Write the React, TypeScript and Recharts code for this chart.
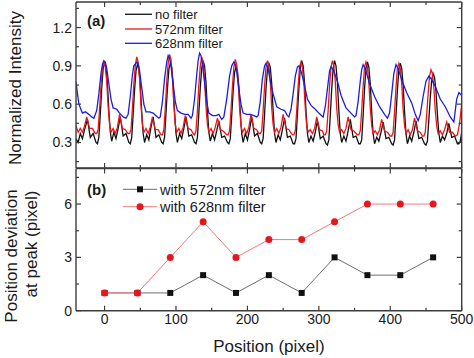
import { LineChart, Line, XAxis, YAxis } from "recharts";

// x axis (shared)
const xMajors = [0, 100, 200, 300, 400, 500];
const xMinors = [50, 150, 250, 350, 450];
// panel (a) y axis
const intensityMajors = [0.3, 0.6, 0.9, 1.2];
const intensityMinors = [0.15, 0.45, 0.75, 1.05, 1.35];
// panel (b) y axis
const deviationMajors = [0, 3, 6];
const deviationMinors = [1.5, 4.5, 7.5];

// panel (a): [position, normalized intensity]
const noFilter: [number, number][] = [
  [-40, 0.33], [-37, 0.30], [-34, 0.37], [-31, 0.33], [-28, 0.40], [-24, 0.48], [-20, 0.34], [-16, 0.37], [-12, 0.30], [-10, 0.29], [-8, 0.34], [-6, 0.52], [-4, 0.72], [-2, 0.88],
  [0, 0.93], [2, 0.89], [4, 0.76], [6, 0.55], [8, 0.38], [10, 0.31], [13, 0.38], [16, 0.33], [19, 0.41], [22, 0.50], [26, 0.35], [30, 0.37], [34, 0.30], [36, 0.29], [38, 0.34], [40, 0.52], [42, 0.71], [44, 0.86],
  [46, 0.91], [48, 0.88], [50, 0.75], [52, 0.54], [54, 0.37], [56, 0.30], [59, 0.36], [62, 0.32], [65, 0.42], [68, 0.50], [72, 0.34], [76, 0.36], [80, 0.30], [82, 0.29], [84, 0.34], [86, 0.53], [88, 0.72], [90, 0.87],
  [92, 0.92], [94, 0.89], [96, 0.76], [98, 0.54], [100, 0.37], [102, 0.30], [105, 0.37], [108, 0.33], [111, 0.41], [114, 0.50], [118, 0.35], [122, 0.36], [126, 0.30], [128, 0.29], [130, 0.34], [132, 0.53], [134, 0.73], [136, 0.88],
  [138, 0.94], [140, 0.90], [142, 0.77], [144, 0.55], [146, 0.38], [148, 0.31], [151, 0.37], [154, 0.32], [157, 0.39], [160, 0.47], [164, 0.34], [168, 0.35], [172, 0.30], [174, 0.29], [176, 0.33], [178, 0.51], [180, 0.70], [182, 0.85],
  [184, 0.89], [186, 0.86], [188, 0.74], [190, 0.54], [192, 0.37], [194, 0.30], [197, 0.37], [200, 0.32], [203, 0.40], [206, 0.50], [210, 0.35], [214, 0.37], [218, 0.30], [220, 0.29], [222, 0.33], [224, 0.52], [226, 0.72], [228, 0.87],
  [230, 0.92], [232, 0.89], [234, 0.76], [236, 0.55], [238, 0.37], [240, 0.30], [243, 0.36], [246, 0.32], [249, 0.40], [252, 0.49], [256, 0.34], [260, 0.35], [264, 0.29], [266, 0.29], [268, 0.33], [270, 0.52], [272, 0.72], [274, 0.88],
  [276, 0.94], [278, 0.90], [280, 0.77], [282, 0.55], [284, 0.37], [286, 0.30], [289, 0.35], [292, 0.31], [295, 0.38], [298, 0.47], [302, 0.33], [306, 0.35], [310, 0.29], [312, 0.28], [314, 0.32], [316, 0.51], [318, 0.72], [320, 0.88],
  [322, 0.94], [324, 0.90], [326, 0.77], [328, 0.55], [330, 0.37], [332, 0.30], [335, 0.35], [338, 0.31], [341, 0.39], [344, 0.48], [348, 0.34], [352, 0.35], [356, 0.29], [358, 0.29], [360, 0.32], [362, 0.51], [364, 0.72], [366, 0.88],
  [368, 0.93], [370, 0.89], [372, 0.76], [374, 0.54], [376, 0.37], [378, 0.29], [381, 0.34], [384, 0.31], [387, 0.38], [390, 0.46], [394, 0.33], [398, 0.34], [402, 0.29], [404, 0.28], [406, 0.32], [408, 0.51], [410, 0.71], [412, 0.87],
  [414, 0.92], [416, 0.88], [418, 0.75], [420, 0.54], [422, 0.37], [424, 0.29], [427, 0.35], [430, 0.31], [433, 0.38], [436, 0.47], [440, 0.33], [444, 0.34], [448, 0.29], [450, 0.28], [452, 0.31], [454, 0.48], [456, 0.65], [458, 0.79],
  [460, 0.84], [462, 0.81], [464, 0.70], [466, 0.52], [468, 0.37], [470, 0.30], [473, 0.35], [476, 0.32], [479, 0.37], [482, 0.45], [486, 0.34], [490, 0.35], [494, 0.29], [496, 0.29], [498, 0.31], [500, 0.38],
];

const filter572: [number, number][] = [
  [-40, 0.43], [-37, 0.38], [-34, 0.41], [-31, 0.38], [-28, 0.43], [-25, 0.50], [-21, 0.41], [-17, 0.41], [-13, 0.37], [-11, 0.37], [-9, 0.40], [-7, 0.56], [-5, 0.74], [-3, 0.88],
  [-1, 0.93], [1, 0.89], [3, 0.78], [5, 0.58], [7, 0.44], [9, 0.38], [12, 0.41], [15, 0.37], [18, 0.42], [21, 0.52], [25, 0.41], [29, 0.40], [33, 0.37], [35, 0.37], [37, 0.40], [39, 0.57], [41, 0.76], [43, 0.90],
  [45, 0.97], [47, 0.93], [49, 0.80], [51, 0.59], [53, 0.44], [55, 0.38], [58, 0.41], [61, 0.37], [64, 0.42], [67, 0.50], [71, 0.40], [75, 0.40], [79, 0.36], [81, 0.36], [83, 0.40], [85, 0.57], [87, 0.77], [89, 0.92],
  [91, 0.99], [93, 0.95], [95, 0.80], [97, 0.59], [99, 0.44], [101, 0.38], [104, 0.41], [107, 0.37], [110, 0.42], [113, 0.51], [117, 0.41], [121, 0.40], [124, 0.37], [126, 0.36], [128, 0.39], [130, 0.55], [132, 0.75], [134, 0.90],
  [136, 0.97], [138, 0.93], [140, 0.79], [142, 0.58], [144, 0.44], [146, 0.38], [149, 0.41], [152, 0.37], [155, 0.42], [158, 0.49], [162, 0.40], [166, 0.39], [171, 0.36], [173, 0.36], [175, 0.39], [177, 0.55], [179, 0.74], [181, 0.89],
  [183, 0.95], [185, 0.91], [187, 0.78], [189, 0.57], [191, 0.43], [193, 0.38], [196, 0.41], [199, 0.37], [202, 0.42], [205, 0.52], [209, 0.41], [213, 0.40], [216, 0.37], [218, 0.37], [220, 0.39], [222, 0.55], [224, 0.74], [226, 0.89],
  [228, 0.94], [230, 0.90], [232, 0.78], [234, 0.57], [236, 0.44], [238, 0.38], [241, 0.41], [244, 0.37], [247, 0.42], [250, 0.52], [254, 0.41], [258, 0.40], [263, 0.36], [265, 0.36], [267, 0.39], [269, 0.55], [271, 0.74], [273, 0.89],
  [275, 0.93], [277, 0.89], [279, 0.77], [281, 0.57], [283, 0.43], [285, 0.38], [288, 0.40], [291, 0.37], [294, 0.41], [297, 0.50], [301, 0.40], [305, 0.39], [307, 0.36], [309, 0.36], [311, 0.39], [313, 0.55], [315, 0.74], [317, 0.89],
  [319, 0.94], [321, 0.90], [323, 0.78], [325, 0.57], [327, 0.44], [329, 0.38], [332, 0.40], [335, 0.37], [338, 0.41], [341, 0.50], [345, 0.40], [349, 0.39], [354, 0.36], [356, 0.36], [358, 0.39], [360, 0.55], [362, 0.74], [364, 0.89],
  [366, 0.93], [368, 0.89], [370, 0.77], [372, 0.57], [374, 0.43], [376, 0.37], [379, 0.39], [382, 0.36], [385, 0.40], [388, 0.48], [392, 0.39], [396, 0.38], [400, 0.35], [402, 0.35], [404, 0.38], [406, 0.54], [408, 0.73], [410, 0.88],
  [412, 0.92], [414, 0.88], [416, 0.76], [418, 0.56], [420, 0.43], [422, 0.37], [425, 0.40], [428, 0.36], [431, 0.40], [434, 0.49], [438, 0.39], [442, 0.38], [445, 0.35], [447, 0.35], [449, 0.38], [451, 0.52], [453, 0.68], [455, 0.82],
  [457, 0.87], [459, 0.84], [461, 0.73], [463, 0.55], [465, 0.43], [467, 0.37], [470, 0.39], [473, 0.36], [476, 0.40], [479, 0.46], [483, 0.38], [487, 0.38], [491, 0.35], [494, 0.36], [497, 0.45], [500, 0.60],
];

const filter628: [number, number][] = [
  [-40, 0.77], [-36, 0.60], [-31, 0.53], [-27, 0.54], [-22, 0.52], [-18, 0.50], [-15, 0.49], [-11, 0.55], [-8, 0.68], [-5, 0.84], [-3, 0.91],
  [-1, 0.94], [1, 0.93], [3, 0.88], [6, 0.76], [9, 0.64], [12, 0.57], [17, 0.56], [21, 0.53], [26, 0.50], [30, 0.49], [33, 0.52], [36, 0.66], [39, 0.83], [41, 0.90],
  [45, 0.93], [47, 0.92], [49, 0.86], [52, 0.73], [55, 0.60], [58, 0.54], [63, 0.54], [68, 0.53], [72, 0.51], [76, 0.49], [78, 0.50], [81, 0.62], [84, 0.80], [87, 0.93],
  [89, 0.98], [91, 0.96], [93, 0.90], [96, 0.76], [99, 0.62], [102, 0.55], [107, 0.53], [112, 0.52], [117, 0.52], [121, 0.49], [123, 0.51], [126, 0.64], [129, 0.83], [131, 0.94],
  [133, 1.0], [135, 0.98], [137, 0.91], [140, 0.77], [143, 0.62], [146, 0.53], [151, 0.51], [156, 0.51], [160, 0.52], [164, 0.48], [167, 0.50], [171, 0.64], [175, 0.82], [178, 0.90],
  [181, 0.93], [183, 0.91], [185, 0.85], [188, 0.72], [191, 0.60], [194, 0.53], [199, 0.52], [204, 0.52], [209, 0.51], [213, 0.50], [215, 0.51], [218, 0.62], [221, 0.80], [224, 0.90],
  [226, 0.92], [229, 0.88], [232, 0.78], [236, 0.68], [241, 0.58], [247, 0.56], [252, 0.55], [256, 0.51], [258, 0.50], [261, 0.56], [264, 0.68], [267, 0.82], [270, 0.89],
  [272, 0.90], [275, 0.86], [279, 0.77], [284, 0.64], [289, 0.59], [295, 0.56], [300, 0.53], [304, 0.51], [306, 0.50], [309, 0.58], [312, 0.72], [315, 0.86],
  [317, 0.89], [320, 0.87], [326, 0.78], [331, 0.67], [338, 0.57], [345, 0.53], [350, 0.50], [352, 0.51], [355, 0.62], [358, 0.78], [360, 0.87],
  [362, 0.91], [365, 0.88], [371, 0.76], [378, 0.66], [385, 0.58], [392, 0.52], [396, 0.49], [399, 0.53], [402, 0.68], [405, 0.84],
  [408, 0.91], [411, 0.88], [416, 0.79], [423, 0.69], [430, 0.61], [435, 0.52], [439, 0.47], [442, 0.52], [446, 0.66], [450, 0.78],
  [454, 0.82], [457, 0.80], [463, 0.74], [470, 0.64], [477, 0.58], [484, 0.50], [489, 0.46], [493, 0.64], [496, 0.69], [500, 0.67],
];

// panel (b)
const peakPositions = [0, 46, 92, 138, 184, 230, 276, 322, 368, 414, 460];
const deviation572 = [1, 1, 1, 2, 1, 2, 1, 3, 2, 2, 3];
const deviation628 = [1, 1, 3, 5, 3, 4, 4, 5, 6, 6, 6];

const FONT = "'Liberation Sans', Arial, sans-serif";
const FRAME = "#3c3c3c";
const TEXT = "#1a1a1a";
const BLACK = "#111111";
const RED = "#e8161b";
const BLUE = "#1d1dde";

const toPoints = (rows: [number, number][]) => rows.map(([x, y]) => ({ x, y }));

function isIn(list: number[], v: number) {
  return list.some((m) => Math.abs(m - v) < 1e-6);
}

// ticks point inwards (Origin style); minor ticks are shorter and unlabeled
function makeTick(side: "left" | "right" | "top" | "bottom", majors: number[], labels: boolean) {
  return function Tick(props: any) {
    const { x, y, payload } = props;
    const v = payload.value;
    const major = isIn(majors, v);
    const len = major ? 5 : 3;
    let x2 = x;
    let y2 = y;
    if (side === "left") x2 = x + len;
    if (side === "right") x2 = x - len;
    if (side === "top") y2 = y + len;
    if (side === "bottom") y2 = y - len;
    let label = null;
    if (labels && major) {
      label =
        side === "left" ? (
          <text x={x - 4} y={y + 5} textAnchor="end" fontSize={14} fill={TEXT} fontFamily={FONT}>
            {String(v)}
          </text>
        ) : (
          <text x={x} y={y + 13} textAnchor="middle" fontSize={14} fill={TEXT} fontFamily={FONT}>
            {String(v)}
          </text>
        );
    }
    return (
      <g>
        <line x1={x} y1={y} x2={x2} y2={y2} stroke={FRAME} strokeWidth={1.2} />
        {label}
      </g>
    );
  };
}

const axisLine = { stroke: FRAME, strokeWidth: 1.4 };
const xTicks = [...xMajors, ...xMinors];

function frameAxes(yMajors: number[], yMinors: number[], yDomain: [number, number], xLabels: boolean, topH: number, bottomH: number) {
  const yTicks = [...yMajors, ...yMinors];
  return [
    <XAxis key="xb" xAxisId="b" type="number" dataKey="x" domain={[-40, 500]} allowDataOverflow ticks={xTicks} interval={0}
      tickSize={0} tickMargin={0} height={bottomH} axisLine={axisLine} tickLine={false} tick={makeTick("bottom", xMajors, xLabels)} />,
    <XAxis key="xt" xAxisId="t" orientation="top" type="number" dataKey="x" domain={[-40, 500]} allowDataOverflow ticks={xTicks} interval={0}
      tickSize={0} tickMargin={0} height={topH} axisLine={axisLine} tickLine={false} tick={makeTick("top", xMajors, false)} />,
    <YAxis key="yl" yAxisId="l" type="number" domain={yDomain} allowDataOverflow ticks={yTicks} interval={0}
      tickSize={0} tickMargin={0} width={76} axisLine={axisLine} tickLine={false} tick={makeTick("left", yMajors, true)} />,
    <YAxis key="yr" yAxisId="r" orientation="right" type="number" domain={yDomain} allowDataOverflow ticks={yTicks} interval={0}
      tickSize={0} tickMargin={0} width={12.3} axisLine={axisLine} tickLine={false} tick={makeTick("right", yMajors, false)} />,
  ];
}

const squareDot = (p: any) => (
  <rect key={`s${p.index}`} x={p.cx - 3} y={p.cy - 3} width={6} height={6} fill={BLACK} />
);
const circleDot = (p: any) => <circle key={`c${p.index}`} cx={p.cx} cy={p.cy} r={3.5} fill={RED} />;

export default function App() {
  const dev572 = peakPositions.map((x, i) => ({ x, y: deviation572[i] }));
  const dev628 = peakPositions.map((x, i) => ({ x, y: deviation628[i] }));

  return (
    <div style={{ position: "absolute", left: 0, top: 0, width: 474, height: 358, background: "#fff", fontFamily: FONT }}>
      <div style={{ position: "absolute", left: 0, top: 0 }}>
        <LineChart width={474} height={170} margin={{ top: 0, right: 0, bottom: 0, left: 0 }}>
          {frameAxes(intensityMajors, intensityMinors, [0.1, 1.4], false, 2, 2)}
          <Line xAxisId="b" yAxisId="l" data={toPoints(noFilter)} dataKey="y" type="linear" stroke={BLACK} strokeWidth={1.3} dot={false} isAnimationActive={false} />
          <Line xAxisId="b" yAxisId="l" data={toPoints(filter572)} dataKey="y" type="linear" stroke={RED} strokeWidth={1.3} dot={false} isAnimationActive={false} />
          <Line xAxisId="b" yAxisId="l" data={toPoints(filter628)} dataKey="y" type="linear" stroke={BLUE} strokeWidth={1.3} dot={false} isAnimationActive={false} />
        </LineChart>
      </div>
      <div style={{ position: "absolute", left: 0, top: 167 }}>
        <LineChart width={474} height={191} margin={{ top: 0, right: 0, bottom: 0, left: 0 }}>
          {frameAxes(deviationMajors, deviationMinors, [0, 8], true, 1.5, 47.3)}
          <Line xAxisId="b" yAxisId="l" data={dev572} dataKey="y" type="linear" stroke="#6e6e6e" strokeWidth={1} dot={squareDot} isAnimationActive={false} />
          <Line xAxisId="b" yAxisId="l" data={dev628} dataKey="y" type="linear" stroke="#f07a7a" strokeWidth={1} dot={circleDot} isAnimationActive={false} />
        </LineChart>
      </div>
      <svg width={474} height={358} style={{ position: "absolute", left: 0, top: 0, pointerEvents: "none" }} fontFamily={FONT}>
        <text x={87} y={26} fontSize={15} fontWeight="bold" fill={TEXT}>(a)</text>
        <line x1={125} y1={14.3} x2={152} y2={14.3} stroke={BLACK} strokeWidth={1.3} />
        <text x={155} y={18.8} fontSize={13} fill={TEXT}>no filter</text>
        <line x1={125} y1={29} x2={152} y2={29} stroke={RED} strokeWidth={1.3} />
        <text x={155} y={33.5} fontSize={13} fill={TEXT}>572nm filter</text>
        <line x1={125} y1={43.3} x2={152} y2={43.3} stroke={BLUE} strokeWidth={1.3} />
        <text x={155} y={47.8} fontSize={13} fill={TEXT}>628nm filter</text>

        <text x={87} y={195} fontSize={15} fontWeight="bold" fill={TEXT}>(b)</text>
        <line x1={123} y1={189.3} x2={157} y2={189.3} stroke="#6e6e6e" strokeWidth={1} />
        <rect x={137} y={186.3} width={6} height={6} fill={BLACK} />
        <text x={160} y={194.5} fontSize={14.5} fill={TEXT}>with 572nm filter</text>
        <line x1={123} y1={206.7} x2={157} y2={206.7} stroke="#f07a7a" strokeWidth={1} />
        <circle cx={140} cy={206.7} r={3.5} fill={RED} />
        <text x={160} y={211.9} fontSize={14.5} fill={TEXT}>with 628nm filter</text>

        <text transform="translate(21,88) rotate(-90)" textAnchor="middle" fontSize={17} fill={TEXT}>Normalized Intensity</text>
        <text transform="translate(17,256) rotate(-90)" textAnchor="middle" fontSize={17} fill={TEXT}>Position deviation</text>
        <text transform="translate(37,244) rotate(-90)" textAnchor="middle" fontSize={17} fill={TEXT}>at peak (pixel)</text>
        <text x={269} y={352} textAnchor="middle" fontSize={17} fill={TEXT}>Position (pixel)</text>
      </svg>
    </div>
  );
}
